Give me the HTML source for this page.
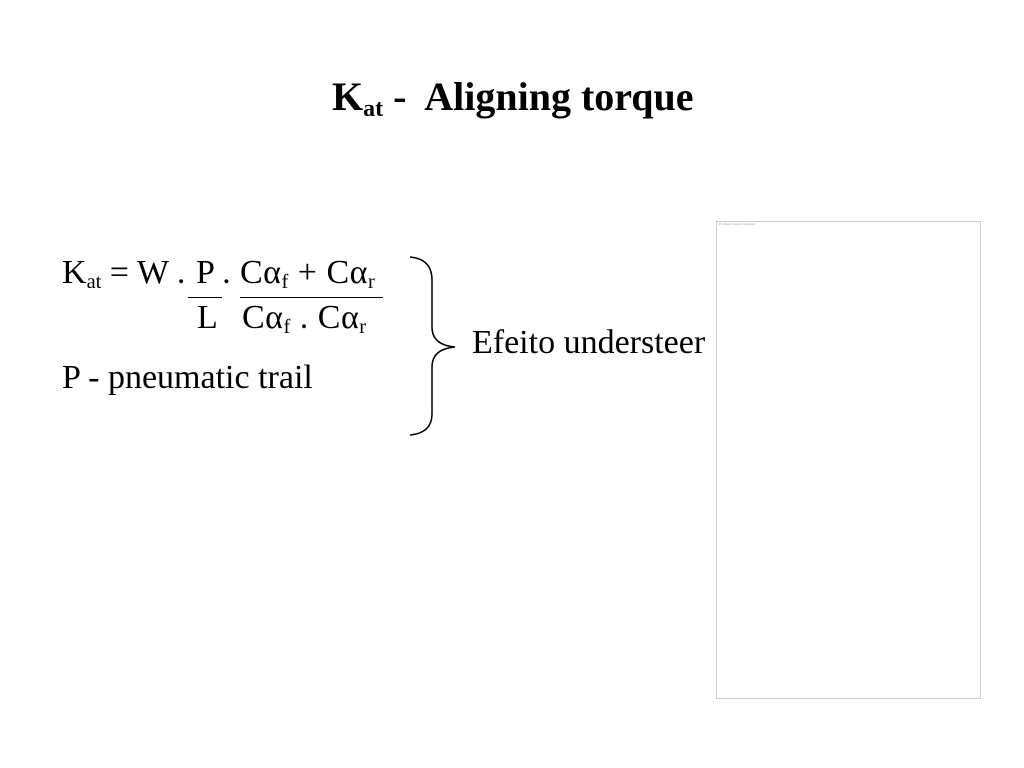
<!DOCTYPE html>
<html><head><style>
body{margin:0;width:1024px;height:768px;background:#fff;position:relative;overflow:hidden;font-family:"Liberation Serif",serif;color:#000}
.t{position:absolute;white-space:nowrap;line-height:1}
sub{font-size:60%;vertical-align:-0.25em;line-height:0}
.f{font-size:34px}
</style></head><body>
<div class="t" style="left:332px;top:77px;font-size:40px;font-weight:bold">K<sub>at</sub> -&nbsp; Aligning torque</div>
<div class="t f" style="left:62px;top:256px">K<sub>at</sub> = W .</div>
<div class="t f" style="left:196px;top:256px">P .</div>
<div class="t f" style="left:240px;top:256px;letter-spacing:0.5px">Cα<sub>f</sub> + Cα<sub>r</sub></div>
<div style="position:absolute;left:188px;top:297px;width:34px;height:1px;background:#000"></div>
<div style="position:absolute;left:240px;top:297px;width:143px;height:1px;background:#000"></div>
<div class="t f" style="left:197px;top:301px">L</div>
<div class="t f" style="left:242px;top:301px;letter-spacing:0.5px">Cα<sub>f</sub> . Cα<sub>r</sub></div>
<div class="t f" style="left:62px;top:361px">P - pneumatic trail</div>
<svg style="position:absolute;left:0;top:0" width="1024" height="768">
<path d="M410 257 Q432 259 432 280 L432 327 Q432 345 455 347 Q432 349 432 367 L432 414 Q432 433 410 435" fill="none" stroke="#000" stroke-width="1.5"/>
<rect x="716.5" y="221.5" width="264" height="477" fill="none" stroke="#ccc" stroke-width="1"/>
</svg>
<div class="t f" style="left:472px;top:326px">Efeito understeer</div>
<div class="t" style="left:719px;top:223px;font-size:3px;color:#999">Pic Image frame not available</div>
</body></html>
